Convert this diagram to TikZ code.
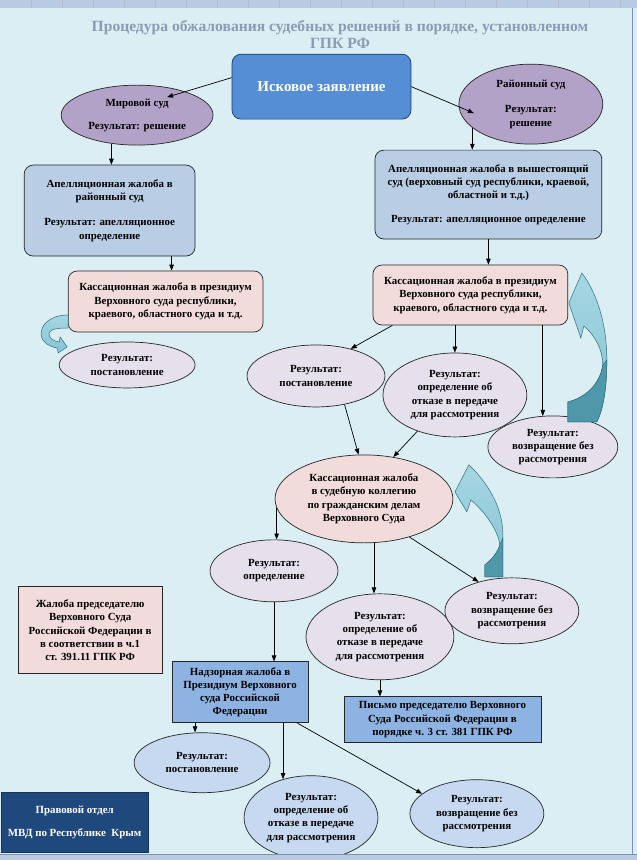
\documentclass[tikz,border=0pt]{standalone}
\usepackage{fontspec}
\setmainfont{Liberation Serif}
\usetikzlibrary{
  arrows.meta,
  shapes.geometric,
  positioning,
  calc
}
\definecolor{gpBack}{HTML}{DAEEF3}
\definecolor{gpBand}{HTML}{B9CBE2}
\definecolor{gpFrame}{HTML}{7F93AE}
\definecolor{gpTitle}{HTML}{8A9BB3}
\definecolor{gpClaim}{HTML}{558ED5}
\definecolor{gpCourt}{HTML}{B3A2C7}
\definecolor{gpAppeal}{HTML}{B9CDE5}
\definecolor{gpKass}{HTML}{F2DCDB}
\definecolor{gpRes}{HTML}{E6E0EC}
\definecolor{gpResBlue}{HTML}{C6D9F1}
\definecolor{gpNadz}{HTML}{8DB3E2}
\definecolor{gpDept}{HTML}{1F497D}
\definecolor{gpTurnLight}{HTML}{A6D6E3}
\definecolor{gpTurnMid}{HTML}{86C4D4}
\definecolor{gpTurnDark}{HTML}{4F98AA}
\definecolor{gpTurnEdge}{HTML}{2E6F80}
\newcommand{\gpfont}{\bfseries\fontsize{10.9}{13.3}\selectfont}
\tikzset{
  gpnode/.style={
    draw=black!85, align=center, font=\gpfont, inner sep=0pt, line width=0.7pt
  },
  roundbox/.style={gpnode, rectangle, rounded corners=9pt},
  flatbox/.style={gpnode, rectangle},
  oval/.style={gpnode, ellipse},
  claim/.style={roundbox, fill=gpClaim, draw=gpDept!80!black, text=white,
    font=\bfseries\fontsize{15}{17}\selectfont},
  court/.style={oval, fill=gpCourt},
  appeal/.style={roundbox, fill=gpAppeal},
  kass/.style={roundbox, fill=gpKass},
  result/.style={oval, fill=gpRes},
  resultb/.style={oval, fill=gpResBlue},
  nadzbox/.style={flatbox, fill=gpNadz},
  deptbox/.style={flatbox, fill=gpDept, draw=gpDept!70!black, text=white},
  flow/.style={-{Triangle[length=6pt,width=4.5pt]}, line width=0.7pt, black},
  turn/.style={draw=gpTurnEdge, line width=0.5pt,
    top color=gpTurnLight, bottom color=gpTurnMid},
  turnback/.style={draw=gpTurnEdge, line width=0.5pt, fill=gpTurnDark}
}

\begin{document}
\begin{tikzpicture}[x=1pt, y=-1pt]
  % screen background
  \fill[gpBack] (0,0) rectangle (637,860);
  \fill[gpBand] (0,0) rectangle (637,8);
  \foreach \k in {1,...,20} {
    \draw[gpFrame!60] (\k*31,0) -- (\k*31,8);
  }
  \draw[gpFrame] (632,8) -- (632,855);

  \node[font=\bfseries\fontsize{15.6}{17}\selectfont, text=gpTitle, align=center] (title) at (340,34)
    {Процедура обжалования судебных решений в порядке, установленном\\ГПК РФ};

  % first instance
  \node[claim, minimum width=179pt, minimum height=65pt] (isk) at (321.5,86.5) {Исковое заявление};
  \node[court, minimum width=152pt, minimum height=60pt] (mir) at (137,115)
    {Мировой суд\\[10pt]Результат: решение};
  \node[court, minimum width=144pt, minimum height=80pt] (rai) at (531,104)
    {Районный суд\\[12pt]Результат:\\решение};

  % appeal
  \node[appeal, minimum width=171pt, minimum height=91pt] (appL) at (109.5,210.5)
    {Апелляционная жалоба в\\районный суд\\[12pt]Результат: апелляционное\\определение};
  \node[appeal, minimum width=227pt, minimum height=89pt] (appR) at (488.5,194.5)
    {Апелляционная жалоба в вышестоящий\\суд (верховный суд республики, краевой,\\областной и т.д.)\\[10pt]Результат: апелляционное определение};

  % cassation, regional level
  \node[kass, minimum width=195pt, minimum height=61pt] (kassL) at (165.5,301.5)
    {Кассационная жалоба в президиум\\Верховного суда республики,\\краевого, областного суда и т.д.};
  \node[kass, minimum width=195pt, minimum height=60pt] (kassR) at (470.5,295)
    {Кассационная жалоба в президиум\\Верховного суда республики,\\краевого, областного суда и т.д.};
  \node[result, minimum width=136pt, minimum height=46pt] (postL) at (127,365)
    {Результат:\\постановление};
  \node[result, minimum width=138pt, minimum height=62pt] (postR) at (316,376)
    {Результат:\\постановление};
  \node[result, minimum width=144pt, minimum height=84pt] (refR) at (455,395)
    {Результат:\\определение об\\отказе в передаче\\для рассмотрения};
  \node[result, minimum width=130pt, minimum height=62pt] (vozR) at (553,447)
    {Результат:\\возвращение без\\рассмотрения};

  % cassation, supreme court
  \node[oval, fill=gpKass, minimum width=178pt, minimum height=88pt] (kass2) at (364,499)
    {Кассационная жалоба\\в судебную коллегию\\по гражданским делам\\Верховного Суда};
  \node[result, minimum width=128pt, minimum height=62pt] (defn) at (274,571)
    {Результат:\\определение};
  \node[result, minimum width=148pt, minimum height=86pt] (ref2) at (380,637)
    {Результат:\\определение об\\отказе в передаче\\для рассмотрения};
  \node[result, minimum width=134pt, minimum height=66pt] (voz2) at (512,611)
    {Результат:\\возвращение без\\рассмотрения};

  % supervision
  \node[flatbox, fill=gpKass, minimum width=144pt, minimum height=87pt] (compl) at (90,630.5)
    {Жалоба председателю\\Верховного Суда\\Российской Федерации в\\в соответствии в ч.1\\ст. 391.11 ГПК РФ};
  \node[nadzbox, minimum width=136pt, minimum height=61pt] (nadz) at (240,692.5)
    {Надзорная жалоба в\\Президиум Верховного\\суда Российской\\Федерации};
  \node[nadzbox, minimum width=197pt, minimum height=46pt] (pismo) at (442.5,720)
    {Письмо председателю Верховного\\Суда Российской Федерации в\\порядке ч. 3 ст. 381 ГПК РФ};
  \node[resultb, minimum width=136pt, minimum height=60pt] (post2) at (202,763)
    {Результат:\\постановление};
  \node[resultb, minimum width=134pt, minimum height=84pt] (ref3) at (311,818)
    {Результат:\\определение об\\отказе в передаче\\для рассмотрения};
  \node[resultb, minimum width=134pt, minimum height=68pt] (voz3) at (477,814)
    {Результат:\\возвращение без\\рассмотрения};
  \node[deptbox, minimum width=147pt, minimum height=60pt] (dept) at (74.5,823)
    {Правовой отдел\\[10pt]МВД по Республике\ \ Крым};

  % connectors
  \draw[flow] ([yshift=9pt]isk.west) -- ($(mir)+(30,-18)$);
  \draw[flow] (isk.east) -- ($(rai)+(-57,9)$);
  \draw[flow] (mir.228) -- (mir.228 |- appL.north);
  \draw[flow] (rai.202) -- (rai.202 |- appR.north);
  \draw[flow] ([xshift=62pt]appL.south) -- ([xshift=62pt]appL.south |- kassL.north);
  \draw[flow] (appR.south) -- (appR.south |- kassR.north);
  \draw[flow] ([xshift=-78pt]kassR.south) -- (postR.38);
  \draw[flow] (refR.north |- kassR.south) -- (refR.north);
  \draw[flow] (vozR.108 |- kassR.south) -- (vozR.108);
  \draw[flow] (postR.-45) -- (kass2.97);
  \draw[flow] (refR.224) -- (kass2.55);
  \draw[flow] (kass2.186) -- (kass2.186 |- defn.north);
  \draw[flow] ([xshift=10pt]kass2.south) -- ([xshift=10pt]kass2.south |- ref2.north);
  \draw[flow] (kass2.-40) -- (voz2.139);
  \draw[flow] (defn.south) -- (defn.south |- nadz.north);
  \draw[flow] (ref2.south) -- (ref2.south |- pismo.north);
  \draw[flow] ([xshift=-45pt]nadz.south) -- ([xshift=-45pt]nadz.south |- post2.north);
  \draw[flow] (ref3.126 |- nadz.south) -- (ref3.126);
  \draw[flow] ([xshift=-11pt]nadz.south east) -- (voz3.160);

  % curved return arrows
  \shade[turn] (68,315) .. controls (50,315) and (40,325) .. (41,335)
    .. controls (42,343) and (50,347) .. (57,348) -- (58,353) -- (67,347) -- (60,337) -- (59,342)
    .. controls (52,341) and (48,337) .. (49,333) .. controls (50,329) and (58,328) .. (68,328) -- cycle;
  \shade[turn] (582,273) .. controls (595,290) and (607,320) .. (607,360)
    .. controls (607,390) and (603,410) .. (597,422) -- (568,422) -- (568,402)
    .. controls (585,398) and (600,385) .. (603,365) .. controls (603,350) and (595,335) .. (584,326)
    -- (581,338) -- (569,303) -- cycle;
  \filldraw[turnback] (568,422) -- (568,402) .. controls (585,398) and (600,385) .. (603,365)
    -- (607,360) .. controls (607,390) and (603,410) .. (597,422) -- cycle;
  \shade[turn] (469,465) .. controls (485,480) and (503,505) .. (503,535)
    -- (503,577) -- (485,577) -- (485,565) .. controls (492,560) and (498,552) .. (500,545)
    .. controls (498,530) and (485,512) .. (471,500) -- (467,512) -- (455,492) -- cycle;
  \filldraw[turnback] (485,577) -- (485,565) .. controls (492,560) and (498,552) .. (500,545)
    -- (503,538) -- (503,577) -- cycle;

  % bottom of the screen
  \fill[gpBand] (0,855) rectangle (637,860);
  \draw[gpFrame] (0,855) -- (637,855);
\end{tikzpicture}
\end{document}
